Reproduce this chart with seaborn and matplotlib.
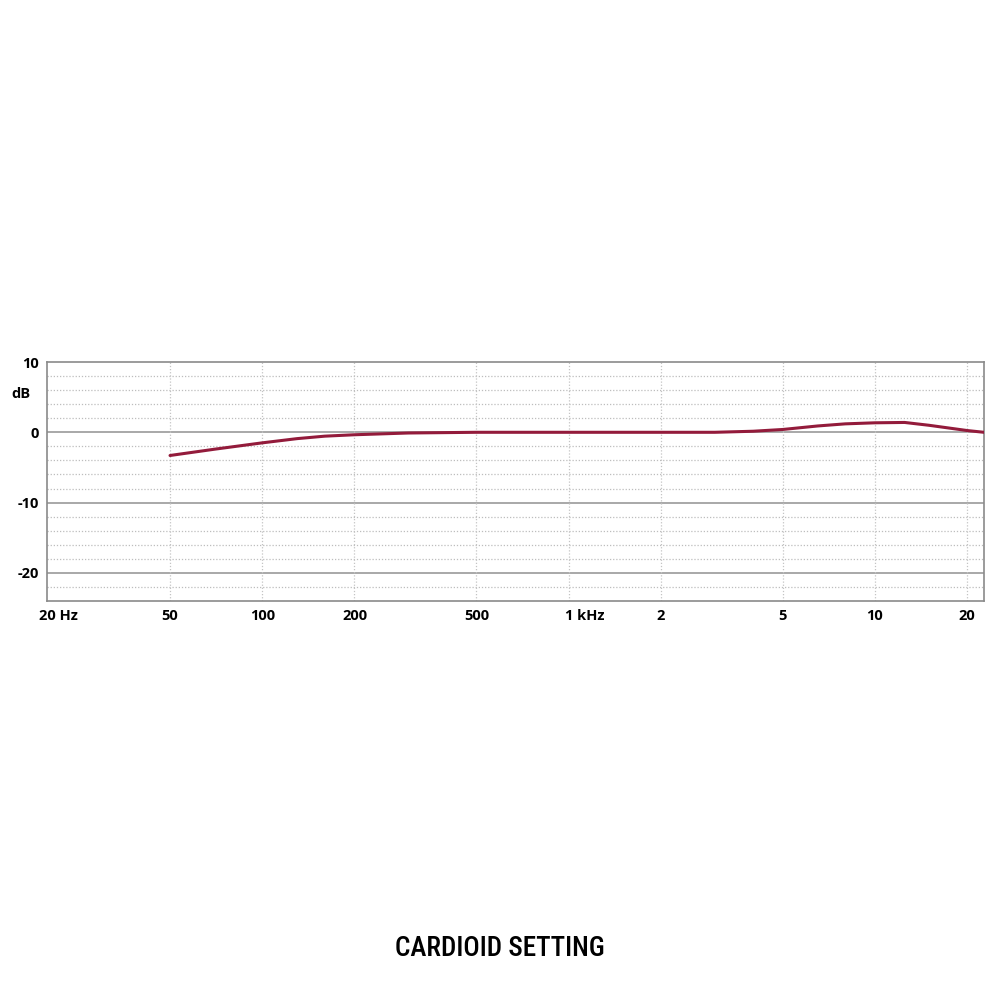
import numpy as np
import pandas as pd
import matplotlib
matplotlib.use('Agg')
import matplotlib.pyplot as plt
import matplotlib.ticker as mticker
import matplotlib.transforms as mtrans
import seaborn as sns

# response curve
freq_hz = [50, 70, 100, 130, 160, 200, 300, 500, 1000, 2000, 3000, 4000, 5000, 6500, 8000, 10000, 12500, 15000, 20000, 22700]
level_db = [-3.3, -2.4, -1.5, -0.9, -0.55, -0.35, -0.1, 0.0, 0.0, 0.0, 0.0, 0.15, 0.4, 0.9, 1.2, 1.35, 1.4, 1.0, 0.25, 0.0]

tick_freqs = [20, 50, 100, 200, 500, 1000, 2000, 5000, 10000, 20000]
tick_labels = ['20 Hz', '50', '100', '200', '500', '1 kHz', '2', '5', '10', '20']
y_ticks = [10, 0, -10, -20]

df = pd.DataFrame({'freq': freq_hz, 'db': level_db})

sns.set_style('white')
plt.rcParams['font.family'] = ['Open Sans', 'DejaVu Sans']

fig = plt.figure(figsize=(10, 10), dpi=100)
ax = fig.add_axes([0.047, 0.399, 0.937, 0.239])

ax.set_xscale('log')
ax.set_xlim(19.83, 22700)
ax.set_ylim(-24, 10)

# grid: dotted every 2 dB, solid every 10 dB
for y in np.arange(-22, 10, 2):
    if y % 10 == 0:
        ax.axhline(y, color='#9a9a9a', lw=1.2, zorder=1)
    else:
        ax.axhline(y, color='#bdbdbd', lw=0.9, ls=(0, (1, 1.5)), zorder=1)
for f in tick_freqs[1:]:
    ax.axvline(f, color='#c4c4c4', lw=0.9, ls=(0, (1, 1.5)), zorder=1)

sns.lineplot(data=df, x='freq', y='db', color='#931b3b', lw=2.2, ax=ax, zorder=3)

ax.xaxis.set_major_locator(mticker.FixedLocator(tick_freqs))
ax.xaxis.set_major_formatter(mticker.FixedFormatter(tick_labels))
ax.xaxis.set_minor_locator(mticker.NullLocator())
ax.set_yticks(y_ticks)
ax.set_yticklabels([str(v) for v in y_ticks])
ax.tick_params(length=0, labelsize=10.5, pad=6, labelcolor='black')
for lab in ax.get_xticklabels() + ax.get_yticklabels():
    lab.set_fontweight('bold')
# labels with a unit: keep the number over the tick
shifts = {'20 Hz': 10, '1 kHz': 16}
for lab in ax.get_xticklabels():
    dx = shifts.get(lab.get_text())
    if dx:
        lab.set_transform(lab.get_transform() + mtrans.ScaledTranslation(dx / 100, 0, fig.dpi_scale_trans))
ax.set_xlabel('')
ax.set_ylabel('')
ax.text(-0.018, 5.4, 'dB', transform=ax.get_yaxis_transform(), ha='right', va='center',
        fontsize=10.5, fontweight='bold', color='black')

for s in ax.spines.values():
    s.set_color('#8a8a8a')
    s.set_linewidth(1.2)

fig.text(0.5, 0.052, 'CARDIOID SETTING', ha='center', va='center', fontsize=19.5,
         family=['Roboto Condensed', 'Liberation Sans Narrow', 'DejaVu Sans'],
         fontweight='medium', fontstretch='condensed', color='black')

fig.savefig('out.png', dpi=100, facecolor='white')
